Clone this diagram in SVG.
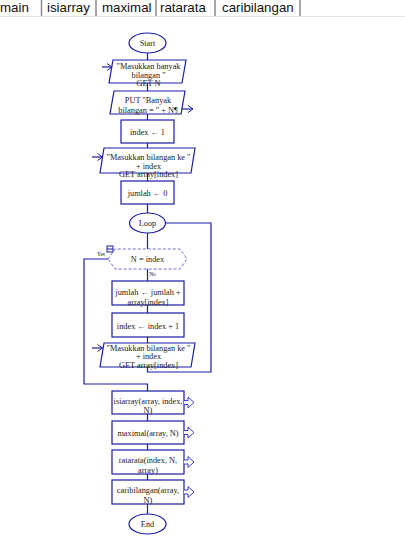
<svg xmlns="http://www.w3.org/2000/svg" width="405" height="545" viewBox="0 0 405 545">
<style>
.tab{font-family:"Liberation Sans",Arial,sans-serif;font-size:13.3px;fill:#111}
.sep{stroke:#8a8a8a;stroke-width:1.5}
.sh{fill:#fff;stroke:#1c1ca6;stroke-width:1.2}
.hex{fill:#fff;stroke:#6a6ae0;stroke-width:1;stroke-dasharray:3,2}
.ln{fill:none;stroke:#1c1ca6;stroke-width:1.2}
.t{font-family:"Liberation Serif","Times New Roman",serif;font-size:8.3px;fill:#1a1a1a;text-anchor:middle}
.s{font-family:"Liberation Serif","Times New Roman",serif;font-size:5.5px;fill:#1a1a1a;text-anchor:middle}
.call{fill:#fff;stroke:#3a3ad0;stroke-width:1}
</style>
<defs>
<marker id="open" markerWidth="8" markerHeight="8" refX="6" refY="4" orient="auto" markerUnits="userSpaceOnUse">
<path d="M1,0.5 L6,4 L1,7.5" fill="none" stroke="#1c1ca6" stroke-width="1"/>
</marker>
</defs>
<rect x="0" y="0" width="405" height="545" fill="#fff"/>
<g id="tabs">
<text class="tab" x="0" y="12">main</text>
<line class="sep" x1="41.5" y1="0" x2="41.5" y2="16"/>
<text class="tab" x="47" y="12">isiarray</text>
<line class="sep" x1="96" y1="0" x2="96" y2="16"/>
<text class="tab" x="102" y="12">maximal</text>
<line class="sep" x1="156" y1="0" x2="156" y2="16"/>
<text class="tab" x="160" y="12">ratarata</text>
<line class="sep" x1="215" y1="0" x2="215" y2="16"/>
<text class="tab" x="222" y="12">caribilangan</text>
<line class="sep" x1="300" y1="0" x2="300" y2="16"/>
<line x1="0" y1="16.5" x2="405" y2="16.5" stroke="#e4e4e4" stroke-width="1"/>
</g>
<g id="connectors">
<line class="ln" x1="147.5" y1="53" x2="147.5" y2="60"/>
<line class="ln" x1="147.5" y1="83" x2="147.5" y2="91"/>
<line class="ln" x1="147.5" y1="114" x2="147.5" y2="120"/>
<line class="ln" x1="147.5" y1="143" x2="147.5" y2="148"/>
<line class="ln" x1="147.5" y1="173" x2="147.5" y2="181"/>
<line class="ln" x1="147.5" y1="204" x2="147.5" y2="213"/>
<line class="ln" x1="147.5" y1="233" x2="147.5" y2="249"/>
<line class="ln" x1="147.5" y1="269" x2="147.5" y2="281"/>
<line class="ln" x1="147.5" y1="305" x2="147.5" y2="313"/>
<line class="ln" x1="147.5" y1="337" x2="147.5" y2="343"/>
<polyline class="ln" points="147.5,367 147.5,372 211,372 211,223 165,223"/>
<polyline class="ln" points="108,259 84,259 84,384 147.5,384 147.5,391"/>
<line class="ln" x1="147.5" y1="414" x2="147.5" y2="421"/>
<line class="ln" x1="147.5" y1="444" x2="147.5" y2="450"/>
<line class="ln" x1="147.5" y1="474" x2="147.5" y2="480"/>
<line class="ln" x1="147.5" y1="504" x2="147.5" y2="514"/>
<line class="ln" x1="102" y1="67" x2="112" y2="67" marker-end="url(#open)"/>
<line class="ln" x1="182" y1="109" x2="193" y2="109" marker-end="url(#open)"/>
<line class="ln" x1="92" y1="157" x2="102.5" y2="157" marker-end="url(#open)"/>
<line class="ln" x1="92" y1="348" x2="102.5" y2="348" marker-end="url(#open)"/>
</g>
<g id="start">
<ellipse class="sh" cx="147.5" cy="43" rx="18.5" ry="10"/>
<text class="t" x="147.5" y="46">Start</text>
</g>
<g id="input-n">
<polygon class="sh" points="113,60 186,60 182,83 109,83"/>
<text class="t" x="148.5" y="69">"Masukkan banyak</text>
<text class="t" x="148.5" y="77.5">bilangan "</text>
<text class="t" x="148.5" y="86">GET N</text>
</g>
<g id="output-n">
<polygon class="sh" points="114,91 185,91 181,114 110,114"/>
<text class="t" x="148" y="103">PUT "Banyak</text>
<text class="t" x="148" y="112.5">bilangan = " + N¶</text>
</g>
<g id="index1">
<rect class="sh" x="121" y="120" width="53" height="23"/>
<text class="t" x="147.5" y="134.5">index ← 1</text>
</g>
<g id="input-array1">
<polygon class="sh" points="104,148 195,148 191,173 100,173"/>
<text class="t" x="148.5" y="160">"Masukkan bilangan ke "</text>
<text class="t" x="148.5" y="168.5">+ index</text>
<text class="t" x="148.5" y="177">GET array[index]</text>
</g>
<g id="jumlah0">
<rect class="sh" x="121" y="181" width="53" height="23"/>
<text class="t" x="147.5" y="195.5">jumlah ← 0</text>
</g>
<g id="loop">
<ellipse class="sh" cx="147.5" cy="223" rx="18" ry="10"/>
<text class="t" x="147.5" y="226">Loop</text>
</g>
<g id="decision">
<polygon class="hex" points="108,259 115,249 180,249 187,259 180,269 115,269"/>
<rect x="107" y="246" width="6" height="6" fill="#fff" stroke="#1c1ca6" stroke-width="1"/>
<line x1="107" y1="249" x2="113" y2="249" stroke="#1c1ca6" stroke-width="1"/>
<text class="t" x="147.5" y="262">N = index</text>
<text class="s" x="101" y="256">Yes</text>
<text class="s" x="152.5" y="276">No</text>
</g>
<g id="jumlah-add">
<rect class="sh" x="112" y="281" width="72" height="24"/>
<text class="t" x="148" y="295">jumlah ← jumlah  +</text>
<text class="t" x="148" y="304.5">array[index]</text>
</g>
<g id="index-inc">
<rect class="sh" x="112" y="313" width="72" height="24"/>
<text class="t" x="148" y="328.5">index ← index  +  1</text>
</g>
<g id="input-array2">
<polygon class="sh" points="104,343 195,343 191,367 100,367"/>
<text class="t" x="148.5" y="350.5">"Masukkan bilangan ke "</text>
<text class="t" x="148.5" y="359">+ index</text>
<text class="t" x="148.5" y="367.5">GET array[index]</text>
</g>
<g id="call-isiarray">
<rect class="sh" x="112" y="391" width="72" height="23"/>
<path class="call" d="M184,400.5 H188 V397 L194,402.5 L188,408 V404.5 H184"/>
<text class="t" x="148" y="404">isiarray(array, index,</text>
<text class="t" x="148" y="413">N)</text>
</g>
<g id="call-maximal">
<rect class="sh" x="112" y="421" width="72" height="23"/>
<path class="call" d="M184,430.5 H188 V427 L194,432.5 L188,438 V434.5 H184"/>
<text class="t" x="148" y="436">maximal(array, N)</text>
</g>
<g id="call-ratarata">
<rect class="sh" x="112" y="450" width="72" height="24"/>
<path class="call" d="M184,460 H188 V456.5 L194,462 L188,467.5 V464 H184"/>
<text class="t" x="148" y="463">ratarata(index, N,</text>
<text class="t" x="148" y="472.5">array)</text>
</g>
<g id="call-caribilangan">
<rect class="sh" x="112" y="480" width="72" height="24"/>
<path class="call" d="M184,490 H188 V486.5 L194,492 L188,497.5 V494 H184"/>
<text class="t" x="148" y="493">caribilangan(array,</text>
<text class="t" x="148" y="502.5">N)</text>
</g>
<g id="end">
<ellipse class="sh" cx="147.5" cy="524" rx="18.5" ry="10"/>
<text class="t" x="147.5" y="527">End</text>
</g>
</svg>
